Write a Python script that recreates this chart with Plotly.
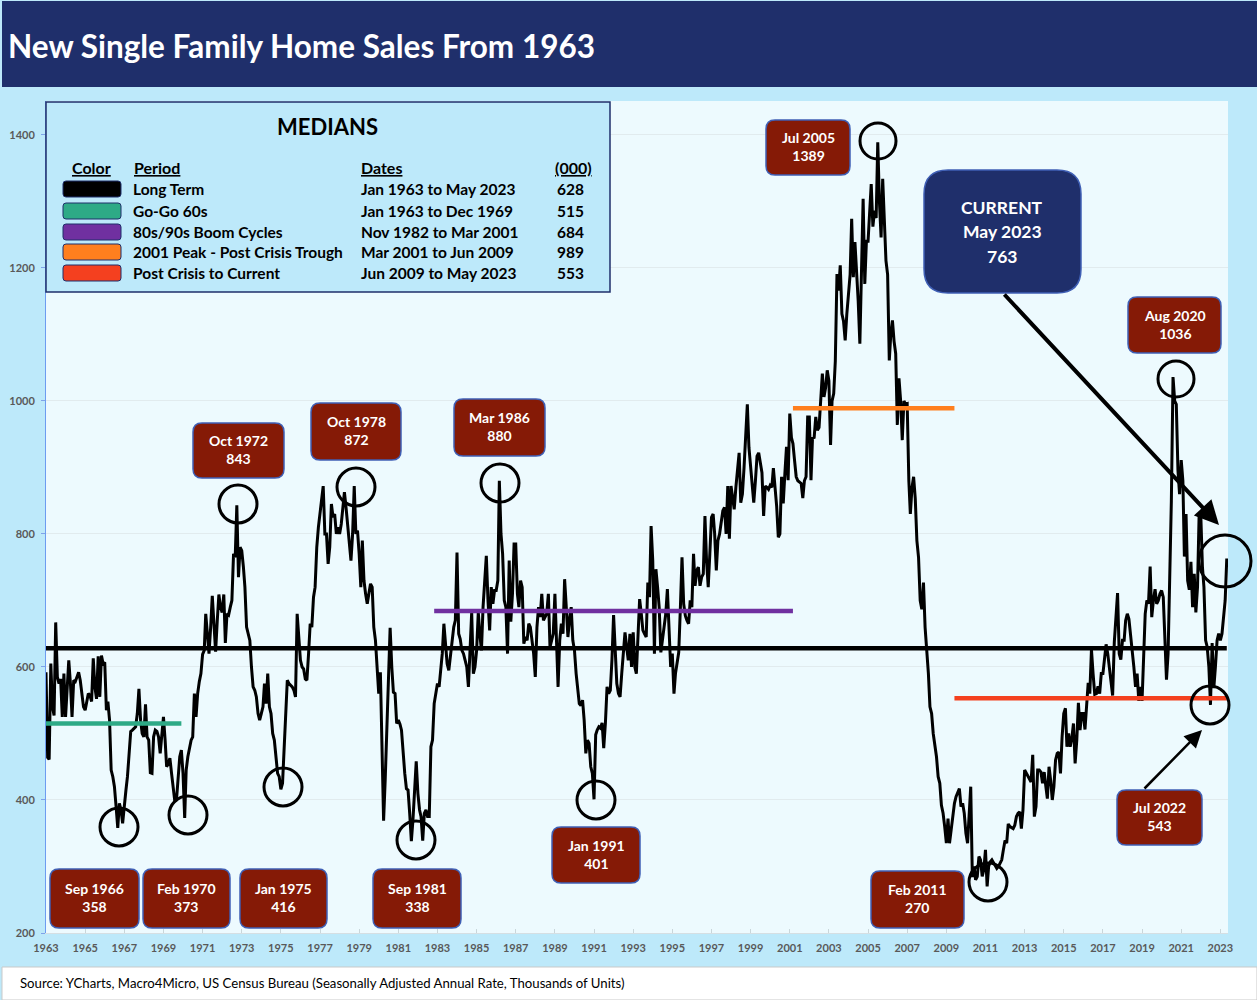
import pandas as pd
import plotly.graph_objects as go

W, H = 1257, 1000

# monthly sales (thousands, SAAR)
sales_1960s = [
    592, 464, 461, 605, 540, 527, 667, 585, 575, 582, 525, 590,
    525, 570, 610, 575, 525, 580, 578, 585, 592, 580, 555, 540,
    535, 548, 560, 557, 548, 613, 570, 552, 616, 555, 617, 605,
    607, 535, 548, 520, 445, 435, 420, 390, 358, 395, 385, 365,
    395, 415, 435, 475, 503, 505, 508, 510, 530, 567, 520, 500,
    495, 544, 495, 490, 441, 440, 495, 505, 503, 495, 470, 495,
    525, 490, 450, 455, 463, 440, 420, 398, 400, 440, 465, 475,
]
sales_1970s = [
    440, 373, 445, 465, 480, 490, 495, 560, 525, 560, 578, 590,
    619, 625, 680, 650, 620, 660, 707, 665, 623, 668, 709, 690,
    682, 709, 636, 680, 678, 690, 700, 770, 765, 843, 735, 780,
    775, 750, 720, 660, 650, 640, 600, 570, 565, 555, 530, 520,
    530, 540, 575, 545, 590, 540, 530, 500, 490, 470, 440, 435,
    416, 425, 470, 530, 580, 575, 572, 570, 565, 555, 680, 640,
    610, 600, 597, 582, 580, 620, 665, 660, 705, 720, 780, 810,
    835, 860, 872, 800, 800, 755, 780, 845, 825, 830, 800, 810,
    800, 815, 840, 863, 840, 810, 790, 760, 800, 872, 800, 805,
    770, 720, 790, 730, 710, 695, 710, 725, 720, 660, 640, 590,
]
sales_1980s = [
    560, 592, 500, 369, 430, 510, 590, 659, 600, 562, 560, 515,
    520, 514, 505, 468, 440, 417, 415, 380, 338, 370, 420, 458,
    410, 385, 375, 339, 380, 385, 375, 375, 480, 490, 545, 560,
    575, 570, 595, 620, 665, 640, 605, 595, 620, 640, 660, 670,
    772, 650, 642, 625, 620, 610, 600, 570, 640, 682, 590, 600,
    625, 682, 650, 625, 690, 730, 767, 700, 655, 720, 695, 715,
    715, 730, 880, 800, 770, 700, 690, 620, 760, 668, 710, 785,
    785, 710, 690, 730, 720, 635, 645, 640, 665, 660, 640, 620,
    585, 660, 690, 675, 710, 670, 675, 680, 710, 630, 640, 650,
    710, 620, 570, 640, 665, 650, 732, 690, 645, 672, 690, 640,
]
sales_1990s = [
    625, 590, 570, 545, 542, 550, 520, 470, 490, 485, 450, 440,
    401, 498, 505, 510, 508, 516, 478, 515, 570, 560, 565, 610,
    678, 630, 575, 560, 555, 590, 620, 652, 630, 610, 650, 600,
    652, 600, 590, 650, 702, 680, 655, 650, 645, 727, 705, 812,
    760, 620, 747, 720, 690, 622, 640, 660, 680, 717, 650, 600,
    620, 560, 590, 610, 622, 690, 765, 695, 677, 670, 665, 700,
    690, 770, 722, 745, 750, 722, 735, 740, 827, 760, 720, 770,
    825, 830, 800, 745, 790, 800, 820, 835, 840, 800, 872, 793,
    872, 855, 837, 870, 900, 922, 847, 860, 900, 940, 995, 930,
    900, 880, 847, 880, 917, 922, 905, 892, 827, 872, 870, 867,
]
sales_2000s = [
    873, 870, 899, 870, 842, 795, 800, 886, 846, 890, 931, 881,
    981, 945, 936, 910, 886, 880, 878, 876, 854, 880, 886, 976,
    976, 881, 944, 945, 976, 956, 960, 1000, 1041, 1006, 1020, 1046,
    1030, 934, 1000, 1011, 1060, 1191, 1166, 1204, 1131, 1120, 1091, 1130,
    1164, 1190, 1274, 1186, 1239, 1200, 1150, 1086, 1200, 1304, 1176, 1240,
    1240, 1290, 1326, 1262, 1286, 1275, 1389, 1300, 1246, 1334, 1280, 1211,
    1190, 1061, 1100, 1121, 1090, 1071, 964, 1034, 1000, 941, 1000, 995,
    996, 880, 830, 870, 886, 853, 790, 765, 700, 687, 727, 660,
    625, 590, 540, 530, 500, 480, 465, 435, 425, 392, 380, 360,
    335, 372, 335, 355, 375, 395, 405, 412, 417, 390, 395, 380,
]
sales_2010s = [
    350, 335, 370, 420, 284, 300, 280, 285, 315, 310, 285, 295,
    325, 270, 300, 307, 310, 305, 300, 297, 300, 305, 310, 325,
    339, 335, 364, 360, 358, 357, 362, 375, 380, 382, 357, 385,
    445, 440, 435, 430, 427, 468, 375, 390, 445, 445, 442, 425,
    442, 420, 402, 450, 430, 400, 420, 460, 470, 472, 440, 495,
    530, 538, 480, 500, 480, 493, 515, 455, 490, 546, 505, 530,
    530, 506, 540, 576, 560, 626, 590, 559, 560, 571, 560, 590,
    590, 610, 634, 620, 597, 570, 557, 637, 680, 711, 620, 611,
    640, 640, 670, 680, 672, 650, 625, 600, 570, 590, 549, 570,
    549, 620, 680, 700, 695, 751, 675, 700, 717, 695, 700, 710,
]
sales_2020s = [
    715, 705, 640, 581, 620, 720, 850, 1036, 1000, 995, 896, 860,
    911, 880, 766, 830, 730, 716, 758, 690, 740, 682, 720, 829,
    829, 750, 720, 640, 630, 600, 543, 636, 568, 600, 640, 650,
    640, 650, 670, 700, 763,
]

median_colors = ["#000000", "#2eaa86", "#7030a0", "#ff7f1e", "#f4401f"]
median_periods = ["Long Term", "Go-Go 60s", "80s/90s Boom Cycles", "2001 Peak - Post Crisis Trough", "Post Crisis to Current"]
median_dates = ["Jan 1963 to May 2023", "Jan 1963 to Dec 1969", "Nov 1982 to Mar 2001", "Mar 2001 to Jun 2009", "Jun 2009 to May 2023"]
median_starts = ["1963-01-01", "1963-01-01", "1982-11-01", "2001-03-01", "2009-06-01"]
median_ends = ["2023-05-01", "1969-12-01", "2001-03-01", "2009-06-01", "2023-05-01"]
median_values = [628, 515, 684, 989, 553]

tick_years = list(range(1963, 2024, 2))
y_ticks = [200, 400, 600, 800, 1000, 1200, 1400]

# text and box of each call-out, in page pixels
callouts = [
    ("Sep 1966", 358, 50, 869, 139, 928),
    ("Feb 1970", 373, 143, 869, 230, 928),
    ("Jan 1975", 416, 240, 869, 327, 928),
    ("Sep 1981", 338, 373, 869, 461, 928),
    ("Oct 1972", 843, 193, 423, 284, 478),
    ("Oct 1978", 872, 311, 403, 401, 460),
    ("Mar 1986", 880, 454, 399, 545, 456),
    ("Jan 1991", 401, 552, 827, 640, 883),
    ("Jul 2005", 1389, 766, 120, 850, 175),
    ("Feb 2011", 270, 871, 871, 964, 928),
    ("Aug 2020", 1036, 1128, 297, 1221, 353),
    ("Jul 2022", 543, 1117, 790, 1202, 845),
]
circles = [
    (119, 827, 19), (188, 815, 19), (238, 504, 19), (283, 787, 19), (356, 487, 19),
    (416, 840, 19), (500, 483, 19), (596, 800, 19), (878, 141, 18), (988, 882, 19),
    (1176, 379, 18), (1210, 705, 19), (1225, 561, 26),
]
current_lines = ["CURRENT", "May 2023", "763"]

FONT = "Lato"
NAVY = "#1f2f6b"
SKY = "#bde9fa"
MAROON = "#851a06"


def fx(x):
    return x / W


def fy(y):
    return 1 - y / H


def round_box(x0, y0, x1, y1, r, fill, line, width=1.5):
    path = (
        f"M {fx(x0 + r)} {fy(y0)} L {fx(x1 - r)} {fy(y0)} Q {fx(x1)} {fy(y0)} {fx(x1)} {fy(y0 + r)} "
        f"L {fx(x1)} {fy(y1 - r)} Q {fx(x1)} {fy(y1)} {fx(x1 - r)} {fy(y1)} "
        f"L {fx(x0 + r)} {fy(y1)} Q {fx(x0)} {fy(y1)} {fx(x0)} {fy(y1 - r)} "
        f"L {fx(x0)} {fy(y0 + r)} Q {fx(x0)} {fy(y0)} {fx(x0 + r)} {fy(y0)} Z"
    )
    return dict(type="path", xref="paper", yref="paper", path=path, fillcolor=fill,
                line=dict(color=line, width=width), layer="above")


def rect(x0, y0, x1, y1, fill, line=None, width=0, layer="below"):
    return dict(type="rect", xref="paper", yref="paper", x0=fx(x0), x1=fx(x1), y0=fy(y1), y1=fy(y0),
                fillcolor=fill, line=dict(color=line, width=width), layer=layer)


def label(x, y, text, size, color="#000000", anchor="left"):
    # annotations carry a couple of pixels of padding, take that off left aligned text
    x = x - 2.5 if anchor == "left" else x
    return dict(xref="paper", yref="paper", x=fx(x), y=fy(y), text=text, showarrow=False, xanchor=anchor,
                yanchor="middle", align="center" if anchor == "center" else "left",
                font=dict(family=FONT, size=size, color=color))


def arrow(x0, y0, x1, y1, width, head):
    return dict(xref="paper", yref="paper", x=fx(x1), y=fy(y1), ax=x0 - x1, ay=y0 - y1, axref="pixel", ayref="pixel",
                text="", showarrow=True, arrowhead=2, arrowsize=head, arrowwidth=width, arrowcolor="#000000")


all_sales = sales_1960s + sales_1970s + sales_1980s + sales_1990s + sales_2000s + sales_2010s + sales_2020s
months = pd.date_range("1963-01-01", periods=len(all_sales), freq="MS")

fig = go.Figure()
fig.add_trace(go.Scatter(x=months, y=all_sales, mode="lines", line=dict(color="#000000", width=3), showlegend=False))
for start, end, value, color in zip(median_starts, median_ends, median_values, median_colors):
    fig.add_trace(go.Scatter(x=[start, end], y=[value, value], mode="lines",
                             line=dict(color=color, width=4.5), showlegend=False))

shapes = [
    rect(2, 1, W, 87, NAVY),
    rect(2, 967, W, H, "#ffffff", "#c9c9c9", 1),
]
annotations = [label(8, 46, "<b>New Single Family Home Sales From 1963</b>", 31.5, "#ffffff")]

# medians table
shapes.append(rect(46, 102, 610, 292, SKY, NAVY, 1.5, "above"))
annotations.append(label(328, 126, "<b>MEDIANS</b>", 22, anchor="center"))
annotations.append(label(72, 167, "<b><u>Color</u></b>", 16))
annotations.append(label(134, 167, "<b><u>Period</u></b>", 16))
annotations.append(label(361, 167, "<b><u>Dates</u></b>", 16))
annotations.append(label(573, 167, "<b><u>(000)</u></b>", 16, anchor="center"))
row_y = [189, 211, 232, 252, 273]
for y, color, period, dates, value in zip(row_y, median_colors, median_periods, median_dates, median_values):
    shapes.append(round_box(63, y - 8, 121, y + 8, 3, color, NAVY, 1))
    annotations.append(label(133, y, f"<b>{period}</b>", 15.5))
    annotations.append(label(361, y, f"<b>{dates}</b>", 15.5))
    annotations.append(label(570, y, f"<b>{value}</b>", 15.5, anchor="center"))

for cx, cy, r in circles:
    shapes.append(dict(type="circle", xref="paper", yref="paper", x0=fx(cx - r), x1=fx(cx + r), y0=fy(cy + r), y1=fy(cy - r),
                       line=dict(color="#000000", width=3), layer="above"))

for name, value, x0, y0, x1, y1 in callouts:
    shapes.append(round_box(x0, y0, x1, y1, 9, MAROON, "#3f5fb5"))
    annotations.append(label((x0 + x1) / 2, (y0 + y1) / 2 - 1, f"<b>{name}<br>{value}</b>", 14, "#ffffff", "center"))

shapes.append(round_box(924, 170, 1081, 293, 24, NAVY, "#3f5fb5"))
for y, text in zip([208, 232, 256], current_lines):
    annotations.append(label(1002, y, f"<b>{text}</b>", 17.5, "#ffffff", "center"))
annotations.append(arrow(1003, 293, 1219, 525, 4, 1.2))
annotations.append(arrow(1143, 790, 1202, 730, 2.5, 1.4))
annotations.append(label(20, 983, "Source: YCharts, Macro4Micro, US Census Bureau (Seasonally Adjusted Annual Rate, Thousands of Units)", 13.2))

fig.update_layout(
    width=W, height=H, margin=dict(l=0, r=0, t=0, b=0),
    paper_bgcolor=SKY, plot_bgcolor="#edfafe", shapes=shapes, annotations=annotations,
    xaxis=dict(domain=[fx(46), fx(1228)], range=["1963-01-01", "2023-05-24"], tickmode="array", automargin=False,
               tickvals=[f"{y}-01-01" for y in tick_years], ticktext=[f"<b>{y}</b>" for y in tick_years],
               ticks="inside", ticklen=4, tickcolor="#c9d6da", showgrid=False, showline=True, linecolor="#d5dfe3",
               tickfont=dict(family=FONT, size=11, color="#595959"), tickangle=0, zeroline=False, ticklabelstandoff=5),
    yaxis=dict(domain=[fy(933), fy(101)], range=[200, 1451], tickmode="array", tickvals=y_ticks, automargin=False,
               ticktext=[f"<b>{v}</b>" for v in y_ticks],
               ticks="outside", ticklen=4, tickcolor="#7fa3e8", showgrid=True, gridcolor="#e1ebee", gridwidth=1,
               showline=True, linecolor="#6d9cf0", zeroline=False, ticklabelstandoff=4,
               tickfont=dict(family=FONT, size=11, color="#595959")),
)

fig.write_html("out.html", config={"displayModeBar": False}, post_script="document.body.style.margin='0';")
